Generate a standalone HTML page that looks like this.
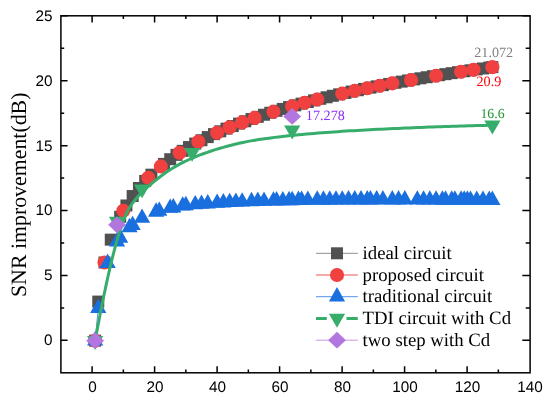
<!DOCTYPE html>
<html lang="en"><head><meta charset="utf-8"><title>SNR improvement</title>
<style>html,body{margin:0;padding:0;background:#fff}svg{display:block}</style></head>
<body>
<svg width="550" height="401" viewBox="0 0 550 401" text-rendering="geometricPrecision">
<rect width="550" height="401" fill="#fff"/>
<g>
<rect x="89.13" y="334.65" width="12" height="12" fill="#515151"/>
<rect x="92.26" y="295.58" width="12" height="12" fill="#515151"/>
<rect x="98.51" y="256.5" width="12" height="12" fill="#515151"/>
<rect x="104.77" y="233.65" width="12" height="12" fill="#515151"/>
<rect x="114.15" y="210.79" width="12" height="12" fill="#515151"/>
<rect x="120.41" y="199.48" width="12" height="12" fill="#515151"/>
<rect x="126.66" y="190.06" width="12" height="12" fill="#515151"/>
<rect x="132.92" y="181.99" width="12" height="12" fill="#515151"/>
<rect x="139.18" y="174.94" width="12" height="12" fill="#515151"/>
<rect x="145.43" y="168.67" width="12" height="12" fill="#515151"/>
<rect x="157.94" y="157.9" width="12" height="12" fill="#515151"/>
<rect x="164.2" y="153.2" width="12" height="12" fill="#515151"/>
<rect x="170.46" y="148.86" width="12" height="12" fill="#515151"/>
<rect x="176.71" y="144.83" width="12" height="12" fill="#515151"/>
<rect x="182.97" y="141.07" width="12" height="12" fill="#515151"/>
<rect x="189.22" y="137.55" width="12" height="12" fill="#515151"/>
<rect x="195.48" y="134.23" width="12" height="12" fill="#515151"/>
<rect x="201.74" y="131.1" width="12" height="12" fill="#515151"/>
<rect x="207.99" y="128.13" width="12" height="12" fill="#515151"/>
<rect x="214.25" y="125.31" width="12" height="12" fill="#515151"/>
<rect x="220.5" y="122.63" width="12" height="12" fill="#515151"/>
<rect x="226.76" y="120.06" width="12" height="12" fill="#515151"/>
<rect x="233.02" y="117.61" width="12" height="12" fill="#515151"/>
<rect x="239.27" y="115.26" width="12" height="12" fill="#515151"/>
<rect x="245.53" y="113.01" width="12" height="12" fill="#515151"/>
<rect x="251.78" y="110.84" width="12" height="12" fill="#515151"/>
<rect x="258.04" y="108.75" width="12" height="12" fill="#515151"/>
<rect x="264.3" y="106.74" width="12" height="12" fill="#515151"/>
<rect x="270.55" y="104.79" width="12" height="12" fill="#515151"/>
<rect x="276.81" y="102.91" width="12" height="12" fill="#515151"/>
<rect x="283.06" y="101.1" width="12" height="12" fill="#515151"/>
<rect x="289.32" y="99.33" width="12" height="12" fill="#515151"/>
<rect x="295.58" y="97.63" width="12" height="12" fill="#515151"/>
<rect x="301.83" y="95.97" width="12" height="12" fill="#515151"/>
<rect x="308.09" y="94.36" width="12" height="12" fill="#515151"/>
<rect x="314.34" y="92.79" width="12" height="12" fill="#515151"/>
<rect x="320.6" y="91.27" width="12" height="12" fill="#515151"/>
<rect x="326.86" y="89.78" width="12" height="12" fill="#515151"/>
<rect x="333.11" y="88.34" width="12" height="12" fill="#515151"/>
<rect x="339.37" y="86.93" width="12" height="12" fill="#515151"/>
<rect x="345.62" y="85.55" width="12" height="12" fill="#515151"/>
<rect x="351.88" y="84.21" width="12" height="12" fill="#515151"/>
<rect x="358.14" y="82.9" width="12" height="12" fill="#515151"/>
<rect x="364.39" y="81.62" width="12" height="12" fill="#515151"/>
<rect x="370.65" y="80.37" width="12" height="12" fill="#515151"/>
<rect x="376.9" y="79.14" width="12" height="12" fill="#515151"/>
<rect x="383.16" y="77.94" width="12" height="12" fill="#515151"/>
<rect x="389.42" y="76.77" width="12" height="12" fill="#515151"/>
<rect x="395.67" y="75.62" width="12" height="12" fill="#515151"/>
<rect x="401.93" y="74.49" width="12" height="12" fill="#515151"/>
<rect x="408.18" y="73.38" width="12" height="12" fill="#515151"/>
<rect x="414.44" y="72.3" width="12" height="12" fill="#515151"/>
<rect x="420.7" y="71.24" width="12" height="12" fill="#515151"/>
<rect x="426.95" y="70.19" width="12" height="12" fill="#515151"/>
<rect x="433.21" y="69.17" width="12" height="12" fill="#515151"/>
<rect x="439.46" y="68.16" width="12" height="12" fill="#515151"/>
<rect x="445.72" y="67.17" width="12" height="12" fill="#515151"/>
<rect x="451.98" y="66.2" width="12" height="12" fill="#515151"/>
<rect x="458.23" y="65.24" width="12" height="12" fill="#515151"/>
<rect x="464.49" y="64.3" width="12" height="12" fill="#515151"/>
<rect x="470.74" y="63.38" width="12" height="12" fill="#515151"/>
<rect x="477" y="62.47" width="12" height="12" fill="#515151"/>
<rect x="483.26" y="61.58" width="12" height="12" fill="#515151"/>
<rect x="486.38" y="61.13" width="12" height="12" fill="#515151"/>
</g>
<g>
<circle cx="95.13" cy="340.65" r="7.05" fill="#F14040"/>
<circle cx="104.51" cy="262.5" r="7.05" fill="#F14040"/>
<circle cx="123.28" cy="210.85" r="7.05" fill="#F14040"/>
<circle cx="148.3" cy="177.72" r="7.05" fill="#F14040"/>
<circle cx="160.82" cy="166.4" r="7.05" fill="#F14040"/>
<circle cx="179.58" cy="152.81" r="7.05" fill="#F14040"/>
<circle cx="198.35" cy="141.86" r="7.05" fill="#F14040"/>
<circle cx="217.12" cy="132.7" r="7.05" fill="#F14040"/>
<circle cx="229.63" cy="127.33" r="7.05" fill="#F14040"/>
<circle cx="242.14" cy="122.42" r="7.05" fill="#F14040"/>
<circle cx="254.66" cy="117.91" r="7.05" fill="#F14040"/>
<circle cx="273.42" cy="111.76" r="7.05" fill="#F14040"/>
<circle cx="292.19" cy="106.21" r="7.05" fill="#F14040"/>
<circle cx="304.7" cy="102.79" r="7.05" fill="#F14040"/>
<circle cx="317.22" cy="99.57" r="7.05" fill="#F14040"/>
<circle cx="342.24" cy="93.63" r="7.05" fill="#F14040"/>
<circle cx="354.75" cy="90.88" r="7.05" fill="#F14040"/>
<circle cx="367.26" cy="88.26" r="7.05" fill="#F14040"/>
<circle cx="379.78" cy="85.75" r="7.05" fill="#F14040"/>
<circle cx="392.29" cy="83.35" r="7.05" fill="#F14040"/>
<circle cx="411.06" cy="79.93" r="7.05" fill="#F14040"/>
<circle cx="436.08" cy="75.68" r="7.05" fill="#F14040"/>
<circle cx="461.1" cy="71.72" r="7.05" fill="#F14040"/>
<circle cx="473.62" cy="69.84" r="7.05" fill="#F14040"/>
<circle cx="492.38" cy="67.13" r="7.05" fill="#F14040"/>
</g>
<g>
<polyline points="95.13,340.65 98.26,308.2" fill="none" stroke="#1A6FDF" stroke-width="0.75"/>
<path d="M95.13 331.05L103.23 345.45L87.03 345.45Z" fill="#1A6FDF"/>
<path d="M98.26 298.6L106.36 313L90.16 313Z" fill="#1A6FDF"/>
<path d="M107.64 253.56L115.74 267.96L99.54 267.96Z" fill="#1A6FDF"/>
<path d="M117.02 232.14L125.12 246.54L108.92 246.54Z" fill="#1A6FDF"/>
<path d="M120.15 228.25L128.25 242.65L112.05 242.65Z" fill="#1A6FDF"/>
<path d="M129.54 217.86L137.64 232.26L121.44 232.26Z" fill="#1A6FDF"/>
<path d="M132.66 215.66L140.76 230.06L124.56 230.06Z" fill="#1A6FDF"/>
<path d="M142.05 208.39L150.15 222.79L133.95 222.79Z" fill="#1A6FDF"/>
<path d="M156.12 202.29L164.22 216.69L148.02 216.69Z" fill="#1A6FDF"/>
<path d="M159.25 201.38L167.35 215.78L151.15 215.78Z" fill="#1A6FDF"/>
<path d="M170.2 198.39L178.3 212.79L162.1 212.79Z" fill="#1A6FDF"/>
<path d="M173.33 198.01L181.43 212.41L165.23 212.41Z" fill="#1A6FDF"/>
<path d="M182.71 196.19L190.81 210.59L174.61 210.59Z" fill="#1A6FDF"/>
<path d="M185.84 195.86L193.94 210.26L177.74 210.26Z" fill="#1A6FDF"/>
<path d="M195.22 194.89L203.32 209.29L187.12 209.29Z" fill="#1A6FDF"/>
<path d="M201.48 194.44L209.58 208.84L193.38 208.84Z" fill="#1A6FDF"/>
<path d="M207.74 193.98L215.84 208.38L199.64 208.38Z" fill="#1A6FDF"/>
<path d="M217.12 193.42L225.22 207.82L209.02 207.82Z" fill="#1A6FDF"/>
<path d="M223.38 193.05L231.48 207.45L215.28 207.45Z" fill="#1A6FDF"/>
<path d="M229.63 192.68L237.73 207.08L221.53 207.08Z" fill="#1A6FDF"/>
<path d="M235.89 192.45L243.99 206.85L227.79 206.85Z" fill="#1A6FDF"/>
<path d="M242.14 192.21L250.24 206.61L234.04 206.61Z" fill="#1A6FDF"/>
<path d="M251.53 191.86L259.63 206.26L243.43 206.26Z" fill="#1A6FDF"/>
<path d="M257.78 191.62L265.88 206.02L249.68 206.02Z" fill="#1A6FDF"/>
<path d="M264.04 191.39L272.14 205.79L255.94 205.79Z" fill="#1A6FDF"/>
<path d="M273.42 191.18L281.52 205.58L265.32 205.58Z" fill="#1A6FDF"/>
<path d="M276.55 191.11L284.65 205.51L268.45 205.51Z" fill="#1A6FDF"/>
<path d="M282.81 190.97L290.91 205.37L274.71 205.37Z" fill="#1A6FDF"/>
<path d="M289.06 190.83L297.16 205.23L280.96 205.23Z" fill="#1A6FDF"/>
<path d="M292.19 190.76L300.29 205.16L284.09 205.16Z" fill="#1A6FDF"/>
<path d="M298.45 190.62L306.55 205.02L290.35 205.02Z" fill="#1A6FDF"/>
<path d="M301.58 190.55L309.68 204.95L293.48 204.95Z" fill="#1A6FDF"/>
<path d="M307.83 190.42L315.93 204.82L299.73 204.82Z" fill="#1A6FDF"/>
<path d="M317.22 190.31L325.32 204.71L309.12 204.71Z" fill="#1A6FDF"/>
<path d="M323.47 190.27L331.57 204.67L315.37 204.67Z" fill="#1A6FDF"/>
<path d="M329.73 190.23L337.83 204.63L321.63 204.63Z" fill="#1A6FDF"/>
<path d="M335.98 190.19L344.08 204.59L327.88 204.59Z" fill="#1A6FDF"/>
<path d="M342.24 190.15L350.34 204.55L334.14 204.55Z" fill="#1A6FDF"/>
<path d="M348.5 190.11L356.6 204.51L340.4 204.51Z" fill="#1A6FDF"/>
<path d="M354.75 190.07L362.85 204.47L346.65 204.47Z" fill="#1A6FDF"/>
<path d="M361.01 190.04L369.11 204.44L352.91 204.44Z" fill="#1A6FDF"/>
<path d="M367.26 190L375.36 204.4L359.16 204.4Z" fill="#1A6FDF"/>
<path d="M370.39 189.98L378.49 204.38L362.29 204.38Z" fill="#1A6FDF"/>
<path d="M376.65 189.97L384.75 204.37L368.55 204.37Z" fill="#1A6FDF"/>
<path d="M382.9 190L391 204.4L374.8 204.4Z" fill="#1A6FDF"/>
<path d="M392.29 190.04L400.39 204.44L384.19 204.44Z" fill="#1A6FDF"/>
<path d="M398.54 190.06L406.64 204.46L390.44 204.46Z" fill="#1A6FDF"/>
<path d="M404.8 190.09L412.9 204.49L396.7 204.49Z" fill="#1A6FDF"/>
<path d="M417.31 190.14L425.41 204.54L409.21 204.54Z" fill="#1A6FDF"/>
<path d="M423.57 190.17L431.67 204.57L415.47 204.57Z" fill="#1A6FDF"/>
<path d="M429.82 190.19L437.92 204.59L421.72 204.59Z" fill="#1A6FDF"/>
<path d="M436.08 190.22L444.18 204.62L427.98 204.62Z" fill="#1A6FDF"/>
<path d="M442.34 190.25L450.44 204.65L434.24 204.65Z" fill="#1A6FDF"/>
<path d="M445.46 190.26L453.56 204.66L437.36 204.66Z" fill="#1A6FDF"/>
<path d="M451.72 190.29L459.82 204.69L443.62 204.69Z" fill="#1A6FDF"/>
<path d="M454.85 190.3L462.95 204.7L446.75 204.7Z" fill="#1A6FDF"/>
<path d="M461.1 190.33L469.2 204.73L453 204.73Z" fill="#1A6FDF"/>
<path d="M464.23 190.35L472.33 204.75L456.13 204.75Z" fill="#1A6FDF"/>
<path d="M467.36 190.36L475.46 204.76L459.26 204.76Z" fill="#1A6FDF"/>
<path d="M470.49 190.38L478.59 204.78L462.39 204.78Z" fill="#1A6FDF"/>
<path d="M476.74 190.4L484.84 204.8L468.64 204.8Z" fill="#1A6FDF"/>
<path d="M483 190.43L491.1 204.83L474.9 204.83Z" fill="#1A6FDF"/>
<path d="M489.26 190.46L497.36 204.86L481.16 204.86Z" fill="#1A6FDF"/>
<path d="M492.38 190.48L500.48 204.88L484.28 204.88Z" fill="#1A6FDF"/>
</g>
<g>
<polyline points="95.13,340.65 95.89,336.53 96.65,332.44 97.41,328.39 98.17,324.38 98.93,320.41 99.69,316.48 100.45,312.59 101.21,308.75 101.97,304.94 102.73,301.19 103.49,297.48 104.25,293.81 105.02,290.2 105.78,286.63 106.54,283.11 107.3,279.65 108.06,276.23 108.82,272.87 109.58,269.57 110.34,266.32 111.1,263.13 111.86,259.99 112.62,256.92 113.38,253.91 114.14,250.96 114.9,248.08 115.66,245.26 116.42,242.51 117.18,239.83 117.94,237.22 118.7,234.68 119.47,232.22 120.23,229.83 120.99,227.53 121.75,225.3 122.51,223.15 123.27,221.09 124.03,219.12 124.79,217.23 125.55,215.44 126.31,213.74 127.07,212.14 127.83,210.64 128.59,209.24 129.35,207.96 130.11,206.76 130.87,205.61 131.63,204.5 132.39,203.42 133.16,202.39 133.92,201.38 134.68,200.41 135.44,199.47 136.2,198.56 136.96,197.67 137.72,196.81 138.48,195.97 139.24,195.15 140,194.35 143.96,190.43 147.92,186.76 151.88,183.3 155.84,180.03 159.8,176.95 163.76,174.03 167.72,171.26 171.67,168.7 175.63,166.35 179.59,164.17 183.55,162.15 187.51,160.25 191.47,158.48 195.43,156.81 199.39,155.23 203.35,153.74 207.31,152.32 211.27,150.97 215.23,149.69 219.19,148.47 223.15,147.32 227.11,146.24 231.07,145.21 235.02,144.24 238.98,143.32 242.94,142.45 246.9,141.64 250.86,140.9 254.82,140.22 258.78,139.58 262.74,138.98 266.7,138.42 270.66,137.89 274.62,137.38 278.58,136.9 282.54,136.44 286.5,136 290.46,135.59 294.42,135.18 298.37,134.8 302.33,134.43 306.29,134.07 310.25,133.73 314.21,133.4 318.17,133.08 322.13,132.77 326.09,132.47 330.05,132.19 334.01,131.91 337.97,131.64 341.93,131.37 345.89,131.12 349.85,130.87 353.81,130.63 357.77,130.4 361.72,130.17 365.68,129.95 369.64,129.74 373.6,129.53 377.56,129.33 381.52,129.13 385.48,128.94 389.44,128.75 393.4,128.57 397.36,128.39 401.32,128.22 405.28,128.05 409.24,127.88 413.2,127.72 417.16,127.56 421.12,127.41 425.07,127.26 429.03,127.11 432.99,126.97 436.95,126.83 440.91,126.7 444.87,126.56 448.83,126.43 452.79,126.31 456.75,126.18 460.71,126.06 464.67,125.94 468.63,125.83 472.59,125.71 476.55,125.6 480.51,125.49 484.47,125.39 488.42,125.28 492.38,125.18" fill="none" stroke="#37AD6B" stroke-width="3" stroke-linejoin="round"/>
<path d="M95.13 349.92L103.23 336.02L87.03 336.02Z" fill="#37AD6B"/>
<path d="M117.02 230.63L125.12 216.73L108.92 216.73Z" fill="#37AD6B"/>
<path d="M142.05 198.31L150.15 184.41L133.95 184.41Z" fill="#37AD6B"/>
<path d="M192.1 161.84L200.2 147.94L184 147.94Z" fill="#37AD6B"/>
<path d="M292.19 139.51L300.29 125.61L284.09 125.61Z" fill="#37AD6B"/>
<path d="M492.38 134.45L500.48 120.55L484.28 120.55Z" fill="#37AD6B"/>
</g>
<g>
<path d="M95.13 332.25L104.03 340.65L95.13 349.05L86.23 340.65Z" fill="#B177DE"/>
<path d="M117.02 216.47L125.92 224.87L117.02 233.27L108.12 224.87Z" fill="#B177DE"/>
<path d="M292.19 107.98L301.09 116.38L292.19 124.78L283.29 116.38Z" fill="#B177DE"/>
</g>
<rect x="60.9" y="15.8" width="469.2" height="357" fill="none" stroke="#000" stroke-width="1.5"/>
<path d="M92.1 372.8v-6.65M92.1 15.8v6.65M123.35 372.8v-3.3M123.35 15.8v3.3M154.6 372.8v-6.65M154.6 15.8v6.65M185.85 372.8v-3.3M185.85 15.8v3.3M217.1 372.8v-6.65M217.1 15.8v6.65M248.35 372.8v-3.3M248.35 15.8v3.3M279.6 372.8v-6.65M279.6 15.8v6.65M310.85 372.8v-3.3M310.85 15.8v3.3M342.1 372.8v-6.65M342.1 15.8v6.65M373.35 372.8v-3.3M373.35 15.8v3.3M404.6 372.8v-6.65M404.6 15.8v6.65M435.85 372.8v-3.3M435.85 15.8v3.3M467.1 372.8v-6.65M467.1 15.8v6.65M498.35 372.8v-3.3M498.35 15.8v3.3M60.9 340.35h6.65M530.1 340.35h-7.75M60.9 307.9h3.3M530.1 307.9h-4.4M60.9 275.45h6.65M530.1 275.45h-7.75M60.9 243h3.3M530.1 243h-4.4M60.9 210.55h6.65M530.1 210.55h-7.75M60.9 178.1h3.3M530.1 178.1h-4.4M60.9 145.65h6.65M530.1 145.65h-7.75M60.9 113.2h3.3M530.1 113.2h-4.4M60.9 80.75h6.65M530.1 80.75h-7.75M60.9 48.3h3.3M530.1 48.3h-4.4M60.9 15.85h6.65M530.1 15.85h-7.75" stroke="#000" stroke-width="1.5" fill="none"/>
<g font-family="'Liberation Sans', Arial, sans-serif" font-size="15.3" fill="#000">
<text x="92.5" y="392.3" text-anchor="middle">0</text>
<text x="155" y="392.3" text-anchor="middle">20</text>
<text x="217.5" y="392.3" text-anchor="middle">40</text>
<text x="280" y="392.3" text-anchor="middle">60</text>
<text x="342.5" y="392.3" text-anchor="middle">80</text>
<text x="405" y="392.3" text-anchor="middle">100</text>
<text x="467.5" y="392.3" text-anchor="middle">120</text>
<text x="530" y="392.3" text-anchor="middle">140</text>
<text x="52.5" y="345.25" text-anchor="end">0</text>
<text x="52.5" y="280.35" text-anchor="end">5</text>
<text x="52.5" y="215.45" text-anchor="end">10</text>
<text x="52.5" y="150.55" text-anchor="end">15</text>
<text x="52.5" y="85.65" text-anchor="end">20</text>
<text x="52.5" y="20.75" text-anchor="end">25</text>
</g>
<text transform="translate(25.5,194.8) rotate(-90)" text-anchor="middle" font-family="'Liberation Serif', 'Times New Roman', serif" font-size="21.85" fill="#000">SNR improvement(dB)</text>
<g font-family="'Liberation Serif', 'Times New Roman', serif" font-size="14.2">
<text x="474.2" y="57" fill="#808080">21.072</text>
<text x="476.5" y="85.6" fill="#FF0000">20.9</text>
<text x="480.4" y="117.5" fill="#1E9632" font-size="13.8">16.6</text>
<text x="305.8" y="120.3" fill="#8C2DF5">17.278</text>
</g>
<g>
<path d="M316 253.3H357.8" stroke="#515151" stroke-width="0.65"/>
<rect x="331" y="247.3" width="12" height="12" fill="#515151"/>
<path d="M316 275.0H357.8" stroke="#F14040" stroke-width="0.9"/>
<circle cx="337" cy="275" r="7.05" fill="#F14040"/>
<path d="M316 296.7H357.8" stroke="#1A6FDF" stroke-width="0.75"/>
<path d="M337 287.1L345.1 301.5L328.9 301.5Z" fill="#1A6FDF"/>
<path d="M316 318.5H326.8M346.5 318.5H357.8" stroke="#37AD6B" stroke-width="2.8"/>
<path d="M337 327.77L345.1 313.87L328.9 313.87Z" fill="#37AD6B"/>
<path d="M316 340.2H357.8" stroke="#B177DE" stroke-width="0.75"/>
<path d="M337 331.8L345.9 340.2L337 348.6L328.1 340.2Z" fill="#B177DE"/>
</g>
<g font-family="'Liberation Serif', 'Times New Roman', serif" font-size="18.75" fill="#000">
<text x="362.6" y="258.8">ideal circuit</text>
<text x="362.6" y="280.5">proposed circuit</text>
<text x="362.6" y="302.2">traditional circuit</text>
<text x="362.6" y="324">TDI circuit with Cd</text>
<text x="362.6" y="345.7">two step with Cd</text>
</g>
</svg>
</body></html>
